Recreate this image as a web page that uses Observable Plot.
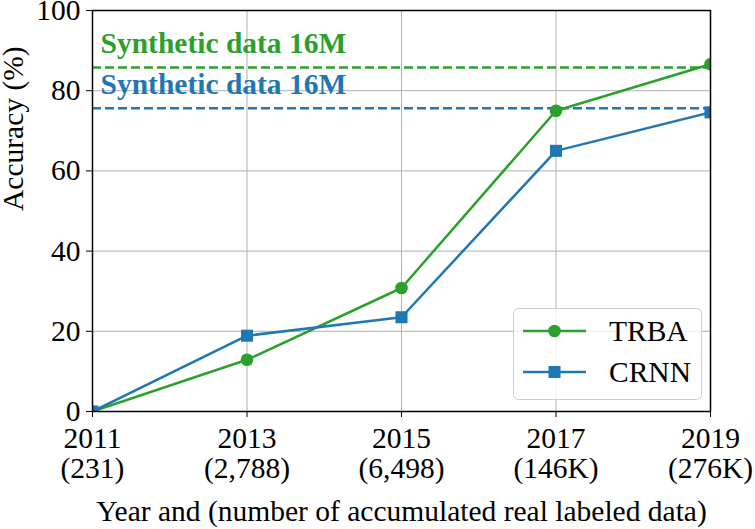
<!DOCTYPE html>
<html><head><meta charset="utf-8">
<script src="https://cdn.jsdelivr.net/npm/d3@7"></script>
<script src="https://cdn.jsdelivr.net/npm/@observablehq/plot@0.6"></script>
<style>
html,body{margin:0;padding:0;background:#fff;}
#wrap{position:relative;width:755px;height:529px;}
#legend{position:absolute;left:513px;top:308px;}
</style></head><body><div id="wrap"></div>
<script>
const years = [2011, 2013, 2015, 2017, 2019];
const counts = ["(231)", "(2,788)", "(6,498)", "(146K)", "(276K)"];
const trba = [0, 12.9, 30.8, 75.0, 86.6];
const crnn = [0, 18.9, 23.5, 65.0, 74.6];
const seriesNames = ["TRBA", "CRNN"];
const seriesColors = ["#2ca02c", "#1f77b4"];
const synthetic = [85.8, 75.6]; // TRBA, CRNN synthetic-only accuracy
const syntheticLabel = "Synthetic data 16M";
const yTicks = [0, 20, 40, 60, 80, 100];
const xTitle = "Year and (number of accumulated real labeled data)";
const yTitle = "Accuracy (%)";

const FONT = '"Liberation Serif", "Times New Roman", serif';
const FS = 29.5;
const grid = {stroke: "#b0b0b0", strokeOpacity: 1, strokeWidth: 1};

const chart = Plot.plot({
  width: 755, height: 529,
  marginLeft: 92, marginRight: 45, marginTop: 10, marginBottom: 118,
  style: {fontFamily: FONT, fontSize: FS + "px", color: "black", background: "white"},
  x: {domain: [2011, 2019]},
  y: {domain: [0, 100]},
  marks: [
    Plot.gridX(years, grid),
    Plot.gridY(yTicks, grid),
    ...synthetic.map((v, i) => Plot.ruleY([v], {stroke: seriesColors[i], strokeWidth: 2.5, strokeDasharray: "9,4"})),
    ...synthetic.map((v, i) => Plot.text([{x: years[0], y: v, t: syntheticLabel}], {
      x: "x", y: "y", text: "t", dx: 8, dy: -14, textAnchor: "start", lineAnchor: "bottom",
      fill: seriesColors[i], fontWeight: "bold", fontSize: FS
    })),
    Plot.line(years, {x: d => d, y: (d, i) => trba[i], stroke: seriesColors[0], strokeWidth: 2.5, clip: true}),
    Plot.dot(years, {x: d => d, y: (d, i) => trba[i], fill: seriesColors[0], symbol: "circle", r: 6.3, clip: true}),
    Plot.line(years, {x: d => d, y: (d, i) => crnn[i], stroke: seriesColors[1], strokeWidth: 2.5, clip: true}),
    Plot.dot(years, {x: d => d, y: (d, i) => crnn[i], fill: seriesColors[1], symbol: "square", r: 6.8, clip: true}),
    Plot.frame({stroke: "black", strokeWidth: 1.5}),
    Plot.axisY(yTicks, {tickSize: 6, tickPadding: 6, fontSize: FS, label: null}),
    Plot.axisX(years, {tickSize: 6, tickPadding: 8, fontSize: FS, lineHeight: 1.05, label: null,
      tickFormat: d => `${d}\n${counts[years.indexOf(d)]}`}),
    Plot.text([xTitle], {frameAnchor: "bottom", dy: 109, lineAnchor: "bottom", fontSize: FS}),
    Plot.text([yTitle], {frameAnchor: "left", rotate: -90, dx: -70, lineAnchor: "bottom", fontSize: FS})
  ]
});
const wrap = document.getElementById("wrap");
wrap.appendChild(chart);

// Legend (inside plot, lower right)
const lg = d3.select(wrap).append("svg").attr("id", "legend").attr("width", 190).attr("height", 93);
lg.append("rect").attr("x", 0.5).attr("y", 0.5).attr("width", 188).attr("height", 91).attr("rx", 5)
  .attr("fill", "white").attr("fill-opacity", 0.8).attr("stroke", "#cccccc");
seriesNames.forEach((name, i) => {
  const cy = 23 + i * 41;
  const g = lg.append("g");
  g.append("line").attr("x1", 10).attr("x2", 73).attr("y1", cy).attr("y2", cy)
    .attr("stroke", seriesColors[i]).attr("stroke-width", 2.5);
  if (i === 0) g.append("circle").attr("cx", 41.5).attr("cy", cy).attr("r", 6.3).attr("fill", seriesColors[i]);
  else g.append("rect").attr("x", 35.5).attr("y", cy - 6).attr("width", 12).attr("height", 12).attr("fill", seriesColors[i]);
  g.append("text").attr("x", 96).attr("y", cy + 10).text(name)
    .attr("font-family", FONT).attr("font-size", FS).attr("fill", "black");
});
</script></body></html>
